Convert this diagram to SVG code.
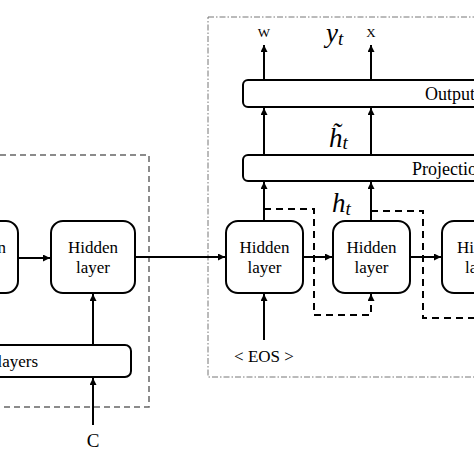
<svg xmlns="http://www.w3.org/2000/svg" width="474" height="474" viewBox="0 0 474 474">
<style>
.node{fill:#fff;stroke:#000;stroke-width:2}
.lbl{font-family:"Liberation Serif","Times New Roman",serif;font-size:17px;fill:#000;text-anchor:middle}
.bar{font-family:"Liberation Serif","Times New Roman",serif;font-size:18px;fill:#000}
.math{font-family:"Liberation Serif","Times New Roman",serif;font-style:italic;fill:#000}
.arr{stroke:#000;stroke-width:2;fill:none;marker-end:url(#ah)}
.fb{stroke:#000;stroke-width:2;fill:none;stroke-dasharray:7 5}
</style>
<defs>
<marker id="ah" markerUnits="userSpaceOnUse" markerWidth="8" markerHeight="8" refX="7" refY="3.5" orient="auto">
<path d="M0,0 L7,3.5 L0,7 z" fill="#000"/>
</marker>
</defs>
<rect width="474" height="474" fill="#fff"/>
<g id="frames">
<rect x="-100" y="155" width="249" height="252" fill="none" stroke="#666" stroke-width="1.5" stroke-dasharray="6 4"/>
<rect x="208" y="17" width="400" height="360" fill="none" stroke="#777" stroke-width="1" stroke-dasharray="6 2 1.5 2"/>
</g>
<g id="connectors">
<line class="arr" x1="18" y1="258" x2="50" y2="258"/>
<line class="arr" x1="135" y1="257" x2="225" y2="257"/>
<line class="arr" x1="93" y1="345" x2="93" y2="294"/>
<line class="arr" x1="93" y1="425" x2="93" y2="378"/>
<line class="arr" x1="264" y1="340" x2="264" y2="294"/>
<line class="arr" x1="303" y1="257" x2="332" y2="257"/>
<line class="arr" x1="410" y1="257" x2="441" y2="257"/>
<line class="arr" x1="264" y1="221" x2="264" y2="182"/>
<line class="arr" x1="371" y1="221" x2="371" y2="182"/>
<line class="arr" x1="264" y1="155" x2="264" y2="108"/>
<line class="arr" x1="371" y1="155" x2="371" y2="108"/>
<line class="arr" x1="264" y1="80" x2="264" y2="45"/>
<line class="arr" x1="371" y1="80" x2="371" y2="45"/>
<path class="fb" d="M264,209 H314 V315 H371 V300"/>
<line class="arr" x1="371" y1="301" x2="371" y2="294"/>
<path class="fb" d="M371,211 H423 V318 H480"/>
</g>
<g id="enc-prev">
<rect class="node" x="-60" y="221" width="78" height="72" rx="12"/>
<text class="lbl" x="-19" y="253">Hidden</text>
<text class="lbl" x="-19" y="273">layer</text>
</g>
<g id="enc-hidden">
<rect class="node" x="51" y="221" width="84" height="72" rx="12"/>
<text class="lbl" x="93" y="253">Hidden</text>
<text class="lbl" x="93" y="273">layer</text>
</g>
<g id="enc-bar">
<rect class="node" x="-200" y="345" width="331" height="32" rx="6"/>
<text class="lbl" x="38" y="367" style="text-anchor:end">Hidden layers</text>
</g>
<g id="dec-h1">
<rect class="node" x="226" y="221" width="77" height="72" rx="12"/>
<text class="lbl" x="264.5" y="253">Hidden</text>
<text class="lbl" x="264.5" y="273">layer</text>
</g>
<g id="dec-h2">
<rect class="node" x="333" y="221" width="77" height="72" rx="12"/>
<text class="lbl" x="371.5" y="253">Hidden</text>
<text class="lbl" x="371.5" y="273">layer</text>
</g>
<g id="dec-h3">
<rect class="node" x="442" y="221" width="80" height="72" rx="12"/>
<text class="lbl" x="482" y="253">Hidden</text>
<text class="lbl" x="482" y="273">layer</text>
</g>
<g id="projection">
<rect class="node" x="243" y="155" width="300" height="26" rx="5"/>
<text class="bar" x="412" y="175">Projection layer</text>
</g>
<g id="output">
<rect class="node" x="243" y="80" width="300" height="27" rx="5"/>
<text class="bar" x="425" y="100">Output layer</text>
</g>
<g id="labels">
<text class="lbl" x="264" y="37" style="font-size:13px">W</text>
<text class="lbl" x="371" y="37" style="font-size:13px">X</text>
<text class="lbl" x="93" y="447" style="font-size:19px">C</text>
<text class="lbl" x="264" y="362">&lt; EOS &gt;</text>
<text class="math" x="326" y="42" style="font-size:27px">y<tspan dy="3" style="font-size:19px">t</tspan></text>
<text class="math" x="329" y="147" style="font-size:27px">h̃<tspan dy="2" style="font-size:19px">t</tspan></text>
<text class="math" x="332" y="212" style="font-size:27px">h<tspan dy="3" style="font-size:19px">t</tspan></text>
</g>
</svg>
